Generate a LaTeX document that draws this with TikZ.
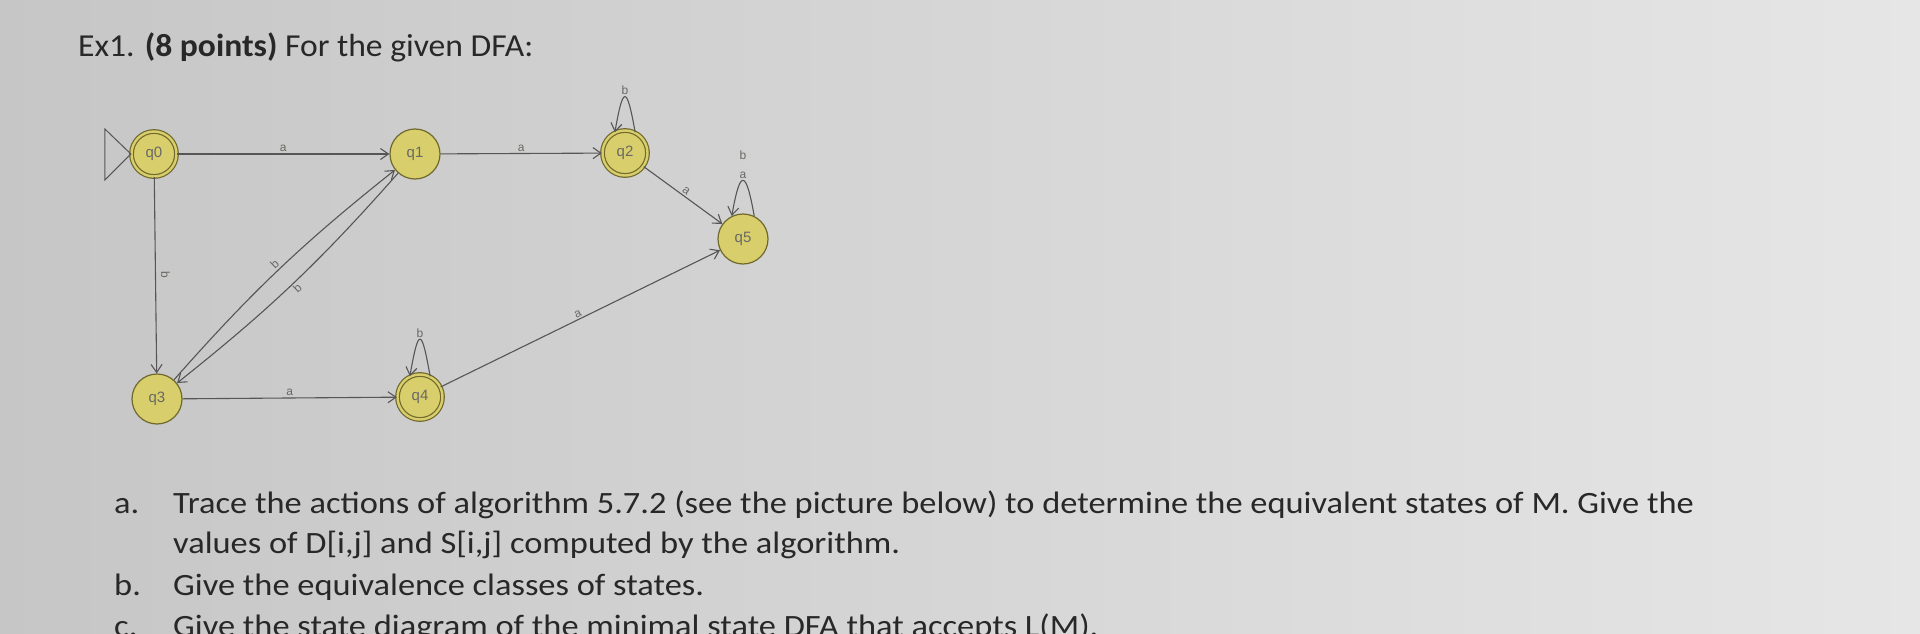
\documentclass[tikz,border=0pt]{standalone}
\usepackage{fontspec}
\setmainfont{Carlito}
\newfontfamily\titlefont[FakeStretch=1.05]{Carlito}
\newfontfamily\questfont[FakeStretch=1.11]{Carlito}
\newfontfamily\jflapfont{Liberation Sans}
\usetikzlibrary{arrows.meta,positioning}

\definecolor{screenleft}{RGB}{198,198,198}
\definecolor{screenright}{RGB}{230,230,230}
\definecolor{statefill}{RGB}{216,206,108}
\definecolor{stateline}{RGB}{112,104,44}
\definecolor{edgeline}{RGB}{86,86,86}
\definecolor{symtext}{RGB}{105,105,100}
\definecolor{inktext}{RGB}{40,40,40}

\begin{document}
\begin{tikzpicture}[
        x=1pt, y=1pt,
        state/.style={circle, draw=stateline, fill=statefill, line width=1.2pt, minimum size=50pt, inner sep=0pt,
            font=\jflapfont\fontsize{15}{15}\selectfont, text=symtext},
        accepting/.style={double=statefill, double distance=2.4pt, minimum size=45pt},
        trans/.style={draw=edgeline, line width=1.1pt, -{Straight Barb[length=8pt,width=11pt]}},
        sym/.style={font=\jflapfont\fontsize{12}{19}\selectfont, text=symtext, inner sep=1.5pt},
        qline/.style={anchor=base west, inner sep=0pt, text=inktext, font=\questfont\fontsize{31}{37}\selectfont}
    ]

    % screen background
    \useasboundingbox (0,0) rectangle (1920,-634);
    \shade[left color=screenleft, right color=screenright] (0,0) rectangle (1920,-634);

    \node[qline, font=\titlefont\fontsize{32}{38}\selectfont] (title) at (78,-57) {Ex1. \textbf{(8 points)} For the given DFA:};

    % the DFA
    \node[state, accepting] (q0) at (154,-154) {q0};
    \node[state] (q1) at (415,-154) {q1};
    \node[state, accepting] (q2) at (625,-153) {q2};
    \node[state] (q5) at (743,-239) {q5};
    \node[state] (q3) at (157,-399) {q3};
    \node[state, accepting] (q4) at (420,-397) {q4};

    \draw[edgeline, line width=1pt] (q0.west) -- ++(-26,25) -- ++(0,-51) -- cycle;

    \draw[trans] (q0) -- node[sym, above] {a} (q1);
    \draw[trans] (q1) -- node[sym, above] {a} (q2);
    \draw[trans] (q2) -- node[sym, above, sloped] {a} (q5);
    \draw[trans] (q0) -- node[sym, above, sloped, inner sep=5pt] {b} (q3);
    \draw[trans] (q3) to[bend left=5] node[sym, above, sloped] {b} (q1);
    \draw[trans] (q1) to[bend left=5] node[sym, below, sloped] {b} (q3);
    \draw[trans] (q3) -- node[sym, above] {a} (q4);
    \draw[trans] (q4) -- node[sym, above, sloped] {a} (q5);

    % self loops
    \draw[trans] (q2.64) .. controls +(100:48) and +(80:48) .. node[sym, above] {b} (q2.116);
    \draw[trans] (q5.64) .. controls +(100:48) and +(80:48) .. node[sym, above, align=center] {b\\a} (q5.116);
    \draw[trans] (q4.64) .. controls +(100:50) and +(80:50) .. node[sym, above] {b} (q4.116);

    % questions
    \node[qline] (itema) at (114,-513) {a.};
    \node[qline] (linea) at (173,-513) {Trace the actions of algorithm 5.7.2 (see the picture below) to determine the equivalent states of M. Give the};
    \node[qline] (lineb) at (173,-553) {values of D[i,j] and S[i,j] computed by the algorithm.};
    \node[qline] (itemb) at (114,-595) {b.};
    \node[qline] (linec) at (173,-595) {Give the equivalence classes of states.};
    \node[qline] (itemc) at (114,-636) {c.};
    \node[qline] (lined) at (173,-636) {Give the state diagram of the minimal state DFA that accepts L(M).};

\end{tikzpicture}
\end{document}
